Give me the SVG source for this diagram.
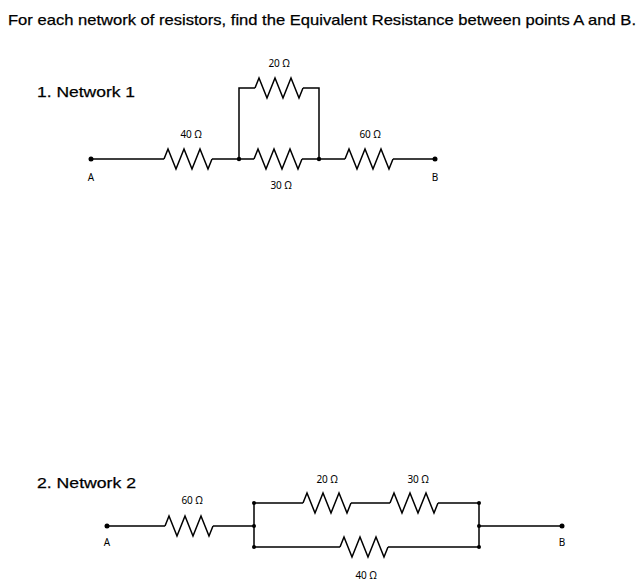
<svg xmlns="http://www.w3.org/2000/svg" xmlns:xlink="http://www.w3.org/1999/xlink" width="638" height="586" viewBox="0 0 638 586">
<style>
.w{stroke:#000;stroke-width:1.5;fill:none}
.t{font-family:"Liberation Sans",Arial,sans-serif;font-size:15px;fill:#000;stroke:#000;stroke-width:0.25}
.l{font-family:"Noto Sans","Open Sans",sans-serif;font-size:10px;fill:#000;text-anchor:middle}
.d{fill:#000}
</style>
<defs>
<path id="r" class="w" d="M0,0 l4,-10 l8,20 l8,-20 l8,20 l8,-20 l8,20 l4,-10"/>
</defs>
<rect width="638" height="586" fill="#fff"/>
<text class="t" x="8" y="25" textLength="628" lengthAdjust="spacingAndGlyphs">For each network of resistors, find the Equivalent Resistance between points A and B.</text>
<text class="t" x="37" y="97" textLength="98" lengthAdjust="spacingAndGlyphs">1. Network 1</text>
<text class="t" x="37" y="488" textLength="99" lengthAdjust="spacingAndGlyphs">2. Network 2</text>
<g id="connectors">
<path class="w" d="M91,159 H164 M212,159 H254 M302,159 H345 M393,159 H435 M239,159 V88 H255 M303,88 H319 V159"/>
<path class="w" d="M107,526 H165 M213,526 H254 V503 H303 M351,503 H390 M438,503 H479 V547 H388 M340,547 H254 V526 M479,526 H562"/>
</g>
<g id="n1-R40"><use href="#r" transform="translate(164,159)"/><text class="l" x="191" y="138">40 Ω</text></g>
<g id="n1-R20"><use href="#r" transform="translate(255,88)"/><text class="l" x="279" y="67">20 Ω</text></g>
<g id="n1-R30"><use href="#r" transform="translate(254,159)"/><text class="l" x="281" y="189">30 Ω</text></g>
<g id="n1-R60"><use href="#r" transform="translate(345,159)"/><text class="l" x="370" y="138">60 Ω</text></g>
<g id="n1-A"><circle class="d" cx="91" cy="159" r="2.5"/><text class="l" x="91" y="181">A</text></g>
<g id="n1-B"><circle class="d" cx="435" cy="159" r="2.5"/><text class="l" x="435" y="181">B</text></g>
<g id="n1-nodes"><circle class="d" cx="239" cy="159" r="2.2"/><circle class="d" cx="319" cy="159" r="2.2"/></g>
<g id="n2-R60"><use href="#r" transform="translate(165,526)"/><text class="l" x="192" y="504">60 Ω</text></g>
<g id="n2-R20"><use href="#r" transform="translate(303,503)"/><text class="l" x="327" y="483">20 Ω</text></g>
<g id="n2-R30"><use href="#r" transform="translate(390,503)"/><text class="l" x="418" y="483">30 Ω</text></g>
<g id="n2-R40"><use href="#r" transform="translate(340,547)"/><text class="l" x="366" y="579">40 Ω</text></g>
<g id="n2-A"><circle class="d" cx="107" cy="526" r="2.5"/><text class="l" x="107" y="546">A</text></g>
<g id="n2-B"><circle class="d" cx="562" cy="526" r="2.5"/><text class="l" x="562" y="546">B</text></g>
<g id="n2-nodes"><circle class="d" cx="254" cy="503" r="2"/><circle class="d" cx="254" cy="526" r="2"/><circle class="d" cx="254" cy="547" r="2"/><circle class="d" cx="479" cy="503" r="2"/><circle class="d" cx="479" cy="526" r="2"/><circle class="d" cx="479" cy="547" r="2"/></g>
</svg>
